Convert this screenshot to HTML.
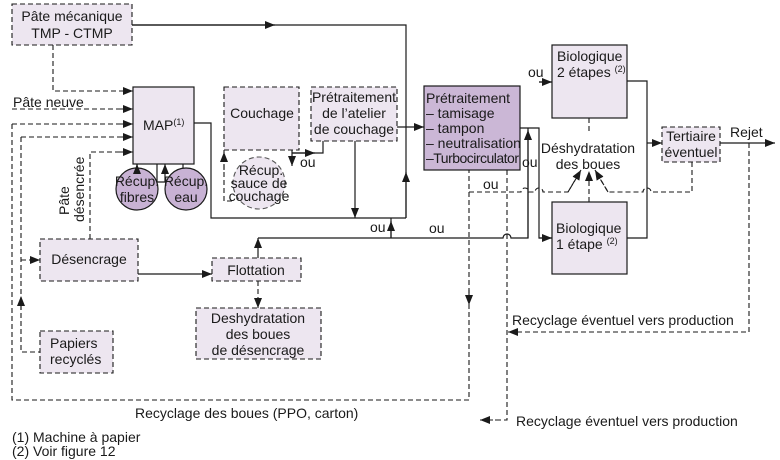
<!DOCTYPE html>
<html><head><meta charset="utf-8"><style>
html,body{margin:0;padding:0;background:#fff}
svg{display:block}
text{font-family:"Liberation Sans",sans-serif;fill:#1a1a1a;font-size:14px}
.s{fill:none;stroke:#1a1a1a;stroke-width:1.2}
.d{fill:none;stroke:#1a1a1a;stroke-width:1.1;stroke-dasharray:5,3}
.bl{fill:#ede6f0;stroke:#1a1a1a;stroke-width:1.2}
.bd{fill:#ede6f0;stroke:#1a1a1a;stroke-width:1.1;stroke-dasharray:5,3}
</style></head><body>
<svg width="780" height="460" viewBox="0 0 780 460" xmlns="http://www.w3.org/2000/svg">
<defs>
<marker id="a" viewBox="0 0 10 8" refX="10" refY="4" markerWidth="10" markerHeight="8" markerUnits="userSpaceOnUse" orient="auto"><path d="M0,0L10,4L0,8z" fill="#1a1a1a"/></marker>
</defs>
<!-- boxes -->
<rect class="bd" x="12" y="4" width="120" height="41"/>
<text x="72" y="21" text-anchor="middle">Pâte mécanique</text>
<text x="72" y="38" text-anchor="middle">TMP - CTMP</text>
<rect class="bl" x="133" y="87" width="61" height="77"/>
<text x="143" y="130">MAP<tspan font-size="9" dy="-5">(1)</tspan></text>
<path class="s" d="M137,168V164" />
<path class="s" d="M157,164V182H165" stroke="#777"/>
<path class="s" d="M183,164V168"/>
<circle cx="137" cy="189" r="21" fill="#c8b2d4" stroke="#1a1a1a" stroke-width="1.2"/>
<text x="137" y="186" text-anchor="middle" font-size="11.5">Récup.</text>
<text x="137" y="202" text-anchor="middle" font-size="11.5">fibres</text>
<circle cx="186" cy="189" r="21" fill="#c8b2d4" stroke="#1a1a1a" stroke-width="1.2"/>
<text x="186" y="186" text-anchor="middle" font-size="11.5">Récup.</text>
<text x="186" y="202" text-anchor="middle" font-size="11.5">eau</text>
<rect class="bd" x="224" y="87" width="75" height="63"/>
<text x="262" y="118" text-anchor="middle">Couchage</text>
<rect class="bd" x="311" y="87" width="86" height="54"/>
<text x="354" y="102" text-anchor="middle">Prétraitement</text>
<text x="354" y="118" text-anchor="middle">de l’atelier</text>
<text x="354" y="134" text-anchor="middle">de couchage</text>
<circle cx="259" cy="183" r="26" fill="#ede6f0" stroke="#555" stroke-width="1.1" stroke-dasharray="5,3"/>
<text x="261" y="175" text-anchor="middle" font-size="11.5">Récup.</text>
<text x="259" y="188" text-anchor="middle" font-size="11.5">sauce de</text>
<text x="259" y="201" text-anchor="middle" font-size="11.5">couchage</text>
<rect x="424" y="86" width="96" height="84" fill="#cbb7d6" stroke="#1a1a1a" stroke-width="1.2"/>
<text x="426" y="103" font-size="13">Prétraitement</text>
<text x="426" y="118" font-size="13">– tamisage</text>
<text x="426" y="133" font-size="13">– tampon</text>
<text x="426" y="148" font-size="13">– neutralisation</text>
<text x="426" y="163" font-size="13" textLength="93">–Turbocirculator</text>
<rect class="bl" x="552" y="45" width="75" height="73"/>
<text x="557" y="61">Biologique</text>
<text x="557" y="77">2 étapes <tspan font-size="9" dy="-5">(2)</tspan></text>
<rect class="bl" x="552" y="202" width="75" height="72"/>
<text x="556" y="233">Biologique</text>
<text x="556" y="249">1 étape <tspan font-size="9" dy="-5">(2)</tspan></text>
<rect class="bd" x="662" y="127" width="58" height="35"/>
<text x="691" y="141" text-anchor="middle">Tertiaire</text>
<text x="691" y="157" text-anchor="middle">éventuel</text>
<text x="588" y="153" text-anchor="middle">Déshydratation</text>
<text x="588" y="169" text-anchor="middle">des boues</text>
<rect class="bd" x="40" y="239" width="98" height="42"/>
<text x="89" y="264" text-anchor="middle">Désencrage</text>
<rect class="bd" x="212" y="258" width="89" height="23"/>
<text x="256" y="275" text-anchor="middle">Flottation</text>
<rect class="bd" x="196" y="308" width="125" height="51"/>
<text x="258" y="323" text-anchor="middle">Deshydratation</text>
<text x="258" y="339" text-anchor="middle">des boues</text>
<text x="258" y="355" text-anchor="middle">de désencrage</text>
<rect class="bd" x="40" y="331" width="73" height="42"/>
<text x="50" y="348">Papiers</text>
<text x="50" y="364">recyclés</text>

<!-- solid lines -->
<path class="s" d="M132,25H406V218"/>
<path class="s" d="M132,25H275" marker-end="url(#a)"/>
<path class="s" d="M406,218V172" marker-end="url(#a)"/>
<path class="s" d="M194,123H211V218H406"/>
<path class="s" d="M397,127H424" marker-end="url(#a)"/>
<path class="s" d="M355,141V218" marker-end="url(#a)"/>
<path class="s" d="M292,150V166" marker-end="url(#a)"/>
<path class="s" d="M292,153H323V141"/>
<path class="s" d="M292,153H315" marker-end="url(#a)"/>
<path class="s" d="M137,168V164" marker-end="url(#a)"/>
<path class="s" d="M165,182V164" marker-end="url(#a)"/>
<path class="s" d="M138,274H212" marker-end="url(#a)"/>
<path class="s" d="M258,258V238" marker-end="url(#a)"/>
<path class="s" d="M258,238H503a4,4 0 0 1 8,0H528V128"/>
<path class="s" d="M528,238V130" marker-end="url(#a)"/>
<path class="s" d="M391,238V218"/>
<path class="s" d="M391,238V221" marker-end="url(#a)"/>
<path class="s" d="M520,128H539V238H552"/>
<path class="s" d="M539,82H552"/>
<path class="s" d="M539,82H552" marker-end="url(#a)"/>
<path class="s" d="M539,238H552" marker-end="url(#a)"/>
<path class="s" d="M627,81H647V238H627"/>
<path class="s" d="M647,143H662" marker-end="url(#a)"/>
<path class="s" d="M720,143H775" marker-end="url(#a)"/>
<!-- dashed -->
<path class="d" d="M53,45V91H133"/>
<path class="d" d="M120,91H133" marker-end="url(#a)"/>
<path class="d" d="M12,109H133"/><path class="d" d="M120,109H133" marker-end="url(#a)"/>
<path class="d" d="M12,124H133"/><path class="d" d="M120,124H133" marker-end="url(#a)"/>
<path class="d" d="M21,137H133"/><path class="d" d="M120,137H133" marker-end="url(#a)"/>
<path class="d" d="M90,239V152H133"/><path class="d" d="M120,152H133" marker-end="url(#a)"/>
<path class="d" d="M12,124V400H469V170"/>
<path class="d" d="M469,290V305" marker-end="url(#a)"/>
<path class="d" d="M21,137V352H40"/>
<path class="d" d="M21,310V296" marker-end="url(#a)"/>
<path class="d" d="M21,260H40" marker-end="url(#a)"/>
<path class="d" d="M232,201H224V150"/>
<path class="d" d="M224,170V152" marker-end="url(#a)"/>
<path class="d" d="M258,281V308" marker-end="url(#a)"/>
<path class="d" d="M469,192H521a4,4 0 0 1 8,0H535a4,4 0 0 1 8,0H568L580,172" />
<path class="d" d="M568,192L581,170" marker-end="url(#a)"/>
<path class="d" d="M589,118V133"/>
<path class="d" d="M589,202V171" marker-end="url(#a)"/>
<path class="d" d="M692,162V192H651a4,4 0 0 0 -8,0H608L596,172"/>
<path class="d" d="M608,192L595,170" marker-end="url(#a)"/>
<path class="d" d="M507,170V420H480"/>
<path class="d" d="M500,420H480" marker-end="url(#a)"/>
<path class="d" d="M749,143V332H508"/>
<path class="d" d="M520,332H508" marker-end="url(#a)"/>
<!-- labels -->
<text x="13" y="107">Pâte neuve</text>
<text transform="translate(69,215) rotate(-90)">Pâte</text>
<text transform="translate(84,222) rotate(-90)">désencrée</text>
<text x="300" y="167">ou</text>
<text x="370" y="232">ou</text>
<text x="429" y="233">ou</text>
<text x="528" y="77">ou</text>
<text x="522" y="167">ou</text>
<text x="483" y="189">ou</text>
<text x="730" y="137">Rejet</text>
<text x="512" y="325">Recyclage éventuel vers production</text>
<text x="516" y="426">Recyclage éventuel vers production</text>
<text x="135" y="418">Recyclage des boues (PPO, carton)</text>
<text x="12" y="442" font-size="11">(1) Machine à papier</text>
<text x="12" y="456" font-size="11">(2) Voir figure 12</text>
</svg>
</body></html>
